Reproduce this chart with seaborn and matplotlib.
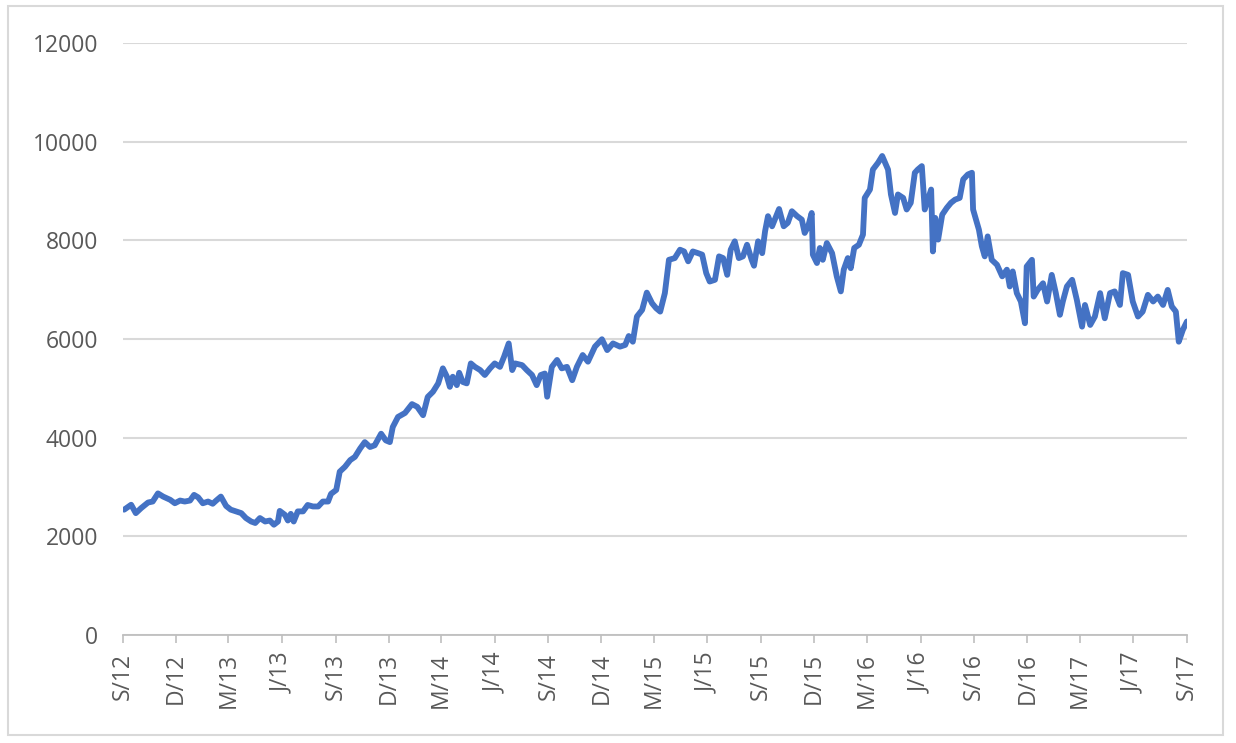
import pandas as pd
import seaborn as sns
import matplotlib.pyplot as plt
from matplotlib.patches import Rectangle

# Series: days since 1 Sep 2012 and the index level
days_since_start = [
    2, 14, 22, 31, 43, 51, 60, 69, 81, 89,
    98, 106, 115, 122, 129, 137, 146, 154, 160, 168,
    177, 185, 194, 203, 211, 220, 227, 235, 244, 252,
    259, 266, 269, 278, 283, 288, 293, 300, 309, 317,
    326, 335, 343, 352, 357, 366, 372, 381, 390, 398,
    407, 415, 424, 432, 443, 451, 458, 463,
    472, 484, 496, 505, 515, 523, 532, 541, 549, 556,
    561, 566, 573, 577, 583, 590, 597, 604, 613, 621,
    630, 638, 647, 654, 662, 668, 673, 685, 693, 702,
    710, 717, 724, 728, 736, 745, 753, 762, 771, 779,
    789, 798, 810, 822, 831, 841, 853, 862, 868, 875,
    882, 891, 899, 908, 915, 922,
    930, 937, 947, 956, 963, 970, 978, 987, 994, 1001,
    1007, 1016, 1023, 1030, 1037, 1043, 1050, 1057, 1064, 1071,
    1079, 1083, 1090, 1097, 1102, 1107, 1114, 1122, 1126, 1134,
    1141, 1148, 1157, 1165, 1170, 1176, 1182, 1184, 1191, 1196,
    1201, 1208, 1217, 1225, 1232, 1237, 1244, 1249, 1255, 1263,
    1270, 1273, 1282, 1287, 1296, 1303, 1308, 1313, 1318, 1325,
    1330, 1339, 1345, 1352, 1359, 1364, 1371, 1376, 1387, 1390,
    1394, 1399, 1406, 1414, 1421, 1428, 1436, 1442, 1450, 1457,
    1459, 1464, 1469, 1474, 1479, 1484, 1491, 1500, 1509, 1517,
    1522, 1527, 1534, 1541, 1548, 1551, 1560, 1563, 1570, 1579,
    1586, 1594, 1601, 1608, 1613, 1620, 1629, 1637, 1646, 1651,
    1660, 1668, 1677, 1685, 1694, 1702, 1711, 1716, 1725, 1733,
    1742, 1750, 1759, 1768, 1776, 1785, 1793, 1800, 1807, 1812,
    1819, 1826,
]
index_values = [
    2540, 2640, 2470, 2570, 2685, 2705, 2870, 2805, 2740, 2670,
    2725, 2705, 2725, 2840, 2790, 2670, 2705, 2660, 2725, 2805,
    2615, 2540, 2505, 2470, 2370, 2300, 2270, 2370, 2300, 2320,
    2235, 2300, 2515, 2435, 2320, 2455, 2300, 2505, 2505, 2635,
    2605, 2605, 2705, 2705, 2860, 2940, 3310, 3410, 3545, 3610,
    3780, 3910, 3810, 3845, 4080, 3945, 3910, 4215,
    4420, 4500, 4680, 4625, 4455, 4825, 4930, 5100, 5405, 5235,
    5030, 5235, 5065, 5315, 5130, 5100, 5505, 5435, 5370, 5270,
    5405, 5505, 5435, 5640, 5910, 5370, 5505, 5470, 5370, 5270,
    5065, 5270, 5300, 4830, 5435, 5575, 5405, 5435, 5165, 5435,
    5675, 5540, 5845, 5995, 5775, 5910, 5845, 5880, 6060, 5945,
    6455, 6590, 6940, 6725, 6625, 6555,
    6930, 7605, 7640, 7810, 7775, 7575, 7775, 7740, 7710, 7335,
    7165, 7200, 7675, 7640, 7300, 7810, 7980, 7640, 7675, 7910,
    7605, 7485, 7980, 7740, 8185, 8490, 8285, 8520, 8635, 8285,
    8355, 8590, 8490, 8420, 8150, 8285, 8555, 7710, 7540, 7845,
    7605, 7945, 7740, 7270, 6965, 7405, 7640, 7435, 7845, 7910,
    8115, 8860, 9030, 9435, 9575, 9710, 9575, 9435, 8930, 8555,
    8930, 8860, 8625, 8760, 9370, 9435, 9505, 8625, 9030, 7775,
    8455, 8015, 8520, 8660, 8760, 8825, 8860, 9235, 9335, 9370,
    8625, 8420, 8215, 7880, 7675, 8080, 7605, 7505, 7270, 7405,
    7065, 7370, 6930, 6760, 6320, 7470, 7605, 6860, 7000, 7130,
    6760, 7300, 6930, 6490, 6760, 7065, 7200, 6795, 6250, 6690,
    6285, 6455, 6930, 6420, 6930, 6965, 6690, 7335, 7300, 6760,
    6455, 6555, 6895, 6760, 6860, 6690, 6995, 6660, 6555, 5945,
    6185, 6355,
]

tick_dates = pd.date_range('2012-09-01', '2017-09-01', freq='3MS')
tick_labels = ['S/12', 'D/12', 'M/13', 'J/13', 'S/13', 'D/13', 'M/14',
               'J/14', 'S/14', 'D/14', 'M/15', 'J/15', 'S/15', 'D/15',
               'M/16', 'J/16', 'S/16', 'D/16', 'M/17', 'J/17', 'S/17']
y_ticks = [0, 2000, 4000, 6000, 8000, 10000, 12000]

start = pd.Timestamp('2012-09-01')
df = pd.DataFrame({
    'date': start + pd.to_timedelta(days_since_start, unit='D'),
    'value': index_values,
})

sns.set_style('white')
plt.rcParams['font.family'] = ['Open Sans', 'DejaVu Sans']

fig = plt.figure(figsize=(12.36, 7.43), dpi=100)
ax = fig.add_axes([0.0995, 0.1454, 0.8608, 0.7967])

sns.lineplot(data=df, x='date', y='value', ax=ax, color='#4472C4',
             linewidth=4.2, solid_joinstyle='round', solid_capstyle='round')

ax.set_xlim(tick_dates[0], tick_dates[-1])
ax.set_ylim(0, 12000)
ax.set_yticks(y_ticks)
ax.set_yticklabels([str(v) for v in y_ticks])
ax.set_xticks(tick_dates)
ax.set_xticklabels(tick_labels, rotation=90)
ax.set_xlabel('')
ax.set_ylabel('')

# Excel-like styling: horizontal gridlines only, light axis at zero
ax.grid(axis='y', color='#D9D9D9', linewidth=1.5)
ax.grid(axis='x', visible=False)
ax.set_axisbelow(True)
for side in ['top', 'right', 'left']:
    ax.spines[side].set_visible(False)
ax.spines['bottom'].set_color('#BFBFBF')
ax.spines['bottom'].set_linewidth(1.3)
ax.tick_params(axis='x', bottom=True, length=5.8, width=1.2, color='#BFBFBF',
               pad=7, labelsize=16.5, labelcolor='#595959')
ax.tick_params(axis='y', left=False, length=0, pad=18,
               labelsize=16.5, labelcolor='#595959')

# light frame around the whole chart area
fig.patches.append(Rectangle((8 / 1236, 1 - 735 / 743), 1215 / 1236, 729 / 743,
                             transform=fig.transFigure, fill=False,
                             edgecolor='#D9D9D9', linewidth=1.5))

fig.savefig('out.png', dpi=100)
